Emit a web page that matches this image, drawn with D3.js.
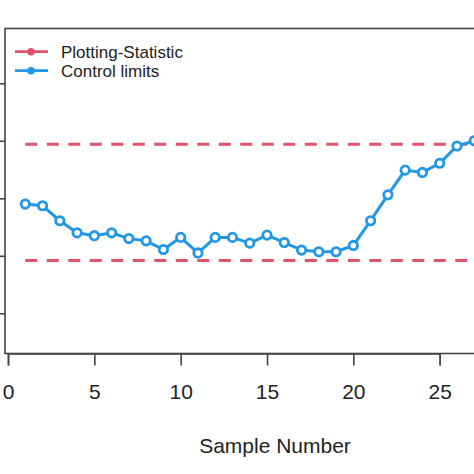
<!DOCTYPE html>
<html>
<head>
<meta charset="utf-8">
<script src="https://cdn.jsdelivr.net/npm/d3@7"></script>
<style>
  body { margin: 0; background: #fff; }
  svg { display: block; font-family: "Liberation Sans", Arial, sans-serif; }
</style>
</head>
<body>
<script>
"use strict";
/* data */
var samples = d3.range(1, 28);
var statistic = [1.90, 1.87, 1.61, 1.40, 1.35, 1.40, 1.30, 1.26, 1.11, 1.32,
                 1.05, 1.32, 1.32, 1.22, 1.36, 1.23, 1.10, 1.07, 1.07, 1.18,
                 1.61, 2.06, 2.49, 2.45, 2.61, 2.91, 3.00];
var ucl = 2.94;
var lcl = 0.92;
var xTicks = [0, 5, 10, 15, 20, 25];
var yTicks = [0, 1, 2, 3, 4];
var legendLabels = ["Plotting-Statistic", "Control limits"];

var width = 474, height = 474;
var red = "#DF536B", blue = "#2297E6", ink = "#222";

var svg = d3.select("body").append("svg")
    .attr("width", width).attr("height", height);

/* plot region: left edge at 5, top 28.5, bottom 353.5 */
var x = d3.scaleLinear().domain([0, 25]).range([8, 439.7]);
var y = d3.scaleLinear().domain([0, 4]).range([313.3, 83.3]);
var box = {left: 5, top: 28.5, bottom: 353.5, right: 520};

svg.append("rect")
    .attr("x", box.left).attr("y", box.top)
    .attr("width", box.right - box.left).attr("height", box.bottom - box.top)
    .attr("fill", "none").attr("stroke", "#444").attr("stroke-width", 1.6);

/* x axis */
var xAxis = svg.append("g")
    .attr("transform", "translate(0," + box.bottom + ")")
    .call(d3.axisBottom(x).tickValues(xTicks).tickSize(12).tickPadding(19).tickFormat(d3.format("d")));
xAxis.select(".domain").attr("stroke", "#444").attr("stroke-width", 1.6);
xAxis.selectAll(".tick line").attr("stroke", "#444").attr("stroke-width", 1.6);
xAxis.selectAll("text").attr("fill", ink).style("font-size", "21px")
    .style("font-family", "'Liberation Sans', Arial, sans-serif");

/* y axis: only the tick marks are inside the picture */
var yAxis = svg.append("g")
    .attr("transform", "translate(" + box.left + ",0)")
    .call(d3.axisLeft(y).tickValues(yTicks).tickSize(12).tickFormat(""));
yAxis.select(".domain").remove();
yAxis.selectAll(".tick line").attr("stroke", "#444").attr("stroke-width", 1.6);

svg.append("text")
    .attr("x", 275).attr("y", 453)
    .attr("text-anchor", "middle")
    .attr("fill", ink).style("font-size", "21px")
    .text("Sample Number");

/* control limits */
svg.selectAll(".limit")
    .data([ucl, lcl])
    .enter().append("line")
    .attr("class", "limit")
    .attr("x1", x(1)).attr("x2", width + 20)
    .attr("y1", function(d) { return y(d); })
    .attr("y2", function(d) { return y(d); })
    .attr("stroke", red).attr("stroke-width", 3)
    .attr("stroke-dasharray", "12,9.5");

/* statistic line */
var pts = samples.map(function(s, i) { return [s, statistic[i]]; });
svg.append("path")
    .datum(pts)
    .attr("fill", "none").attr("stroke", blue).attr("stroke-width", 3)
    .attr("d", d3.line().x(function(d) { return x(d[0]); }).y(function(d) { return y(d[1]); }));

svg.selectAll(".pt")
    .data(pts)
    .enter().append("circle")
    .attr("class", "pt")
    .attr("cx", function(d) { return x(d[0]); })
    .attr("cy", function(d) { return y(d[1]); })
    .attr("r", 4.2)
    .attr("fill", "#fff").attr("stroke", blue).attr("stroke-width", 2.8);

/* legend */
var legend = svg.append("g");
var legendColors = [red, blue];
legendLabels.forEach(function(lab, i) {
    var ly = 51.7 + i * 19;
    legend.append("line")
        .attr("x1", 15).attr("x2", 48).attr("y1", ly).attr("y2", ly)
        .attr("stroke", legendColors[i]).attr("stroke-width", 2.8);
    legend.append("circle")
        .attr("cx", 31).attr("cy", ly).attr("r", 3.8)
        .attr("fill", legendColors[i]);
    legend.append("text")
        .attr("x", 61).attr("y", ly + 6)
        .attr("fill", ink).style("font-size", "17px")
        .text(lab);
});
</script>
</body>
</html>
